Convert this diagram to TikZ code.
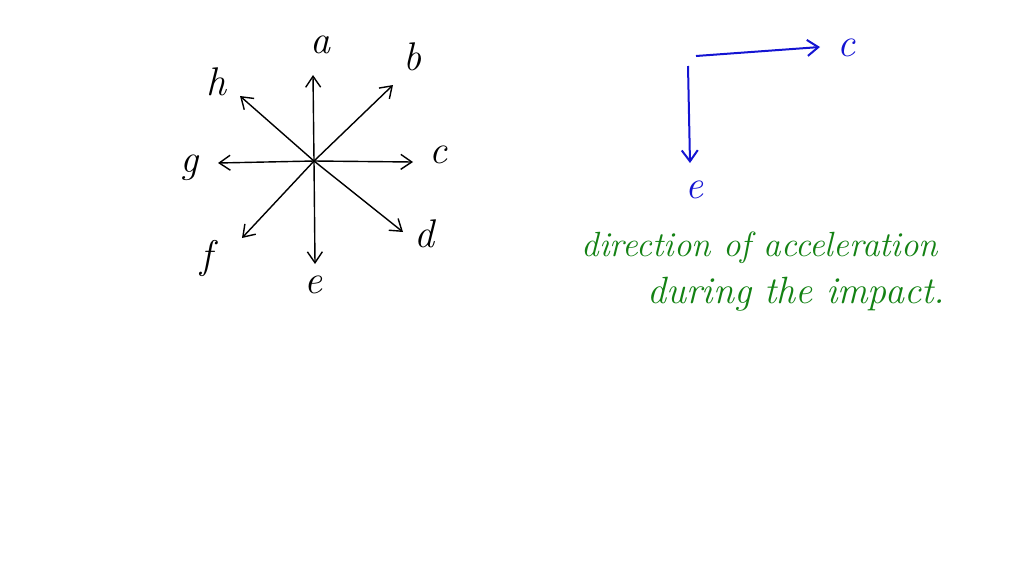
\documentclass[tikz,border=0pt]{standalone}
\usetikzlibrary{arrows.meta}
\definecolor{penblue}{RGB}{20,20,210}
\definecolor{pengreen}{RGB}{20,130,20}
\tikzset{
  lbl/.style={font=\fontsize{40}{44}\selectfont\itshape, inner sep=0pt},
  vec/.style={line width=1.4pt, -{Straight Barb[length=11pt,width=15pt,line width=1.4pt]}},
  bvec/.style={line width=2pt, penblue, -{Straight Barb[length=11pt,width=16pt,line width=2pt]}},
  note/.style={font=\fontsize{35}{40}\selectfont\itshape, text=pengreen, inner sep=0pt}
}
\begin{document}
\begin{tikzpicture}[x=1pt,y=-1pt]
\useasboundingbox (0,0) rectangle (1024,576);
% star
\coordinate (O) at (314,161);
\coordinate (ta) at (313,75);
\coordinate (tb) at (393,85);
\coordinate (tc) at (413,162);
\coordinate (td) at (403,232);
\coordinate (te) at (315,264);
\coordinate (tf) at (242,238);
\coordinate (tg) at (218,163);
\coordinate (th) at (240,96);
\foreach \t in {ta,tb,tc,td,te,tf,tg,th} \draw[vec] (O) -- (\t);
\node[lbl] (a) at (320,45) {a};
\node[lbl] (b) at (412,57) {b};
\node[lbl] (c) at (438,155) {c};
\node[lbl] (d) at (424,234) {d};
\node[lbl] (e) at (313,285) {e};
\node[lbl] (f) at (206,258) {f};
\node[lbl] (g) at (189,168) {g};
\node[lbl] (h) at (216,82) {h};
% blue
\coordinate (hs) at (696,56);
\coordinate (he) at (820,47);
\coordinate (vs) at (688,66);
\coordinate (ve) at (690,163);
\draw[bvec] (hs) -- (he);
\draw[bvec] (vs) -- (ve);
\node[lbl, text=penblue] (c2) at (846,48) {c};
\node[lbl, text=penblue] (e2) at (694,190) {e};
% green note
\node[note] (n1) at (760,248) {direction of acceleration};
\node[note, font=\fontsize{38}{44}\selectfont\itshape] (n2) at (796,294) {during the impact.};
\end{tikzpicture}
\end{document}
